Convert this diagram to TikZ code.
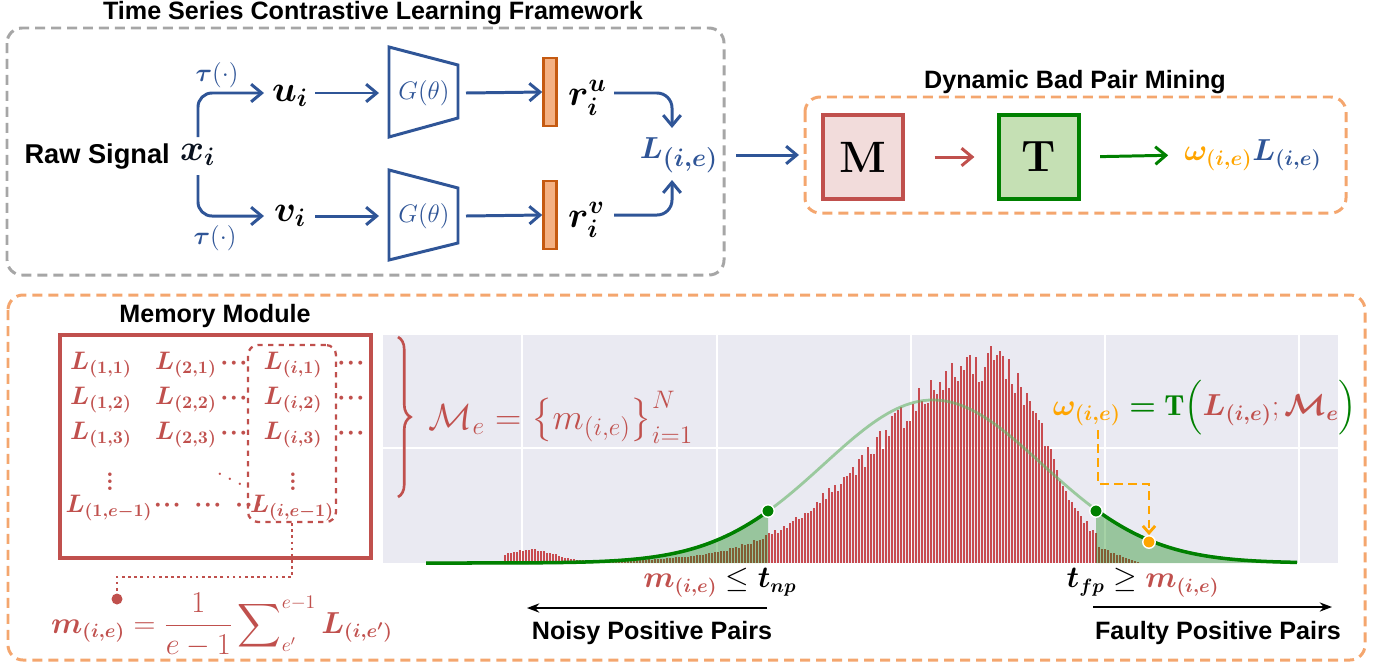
\documentclass[tikz,border=0pt]{standalone}
\usepackage{fontspec}
\setsansfont{Liberation Sans}
\usepackage{amsmath,bm}
\usetikzlibrary{arrows.meta,decorations.pathreplacing,calc}
\definecolor{dblue}{RGB}{47,85,151}
\definecolor{barfill}{RGB}{244,177,131}
\definecolor{barline}{RGB}{197,90,17}
\definecolor{gbox}{RGB}{166,166,166}
\definecolor{obox}{RGB}{244,166,110}
\definecolor{mred}{RGB}{192,80,77}
\definecolor{mfill}{RGB}{242,220,219}
\definecolor{tgreen}{RGB}{0,128,0}
\definecolor{tfill}{RGB}{197,224,180}
\definecolor{orng}{RGB}{255,165,0}
\definecolor{chartbg}{RGB}{234,234,242}
\definecolor{histred}{RGB}{200,75,80}
\newcommand{\tdots}{\bm{\cdot}\mkern-3mu\bm{\cdot}\mkern-3mu\bm{\cdot}}
\begin{document}
\begin{tikzpicture}[x=0.02cm,y=-0.02cm,
  sans/.style={font=\sffamily\bfseries\fontsize{#1}{#1}\selectfont},
  mth/.style={font=\fontsize{#1}{#1}\selectfont, inner sep=1pt},
  barr/.style={-{Straight Barb[length=6pt,width=10pt]}, line width=1.7pt},
  frame/.style={line width=1.7pt, dash pattern=on 0.2cm off 0.12cm, rounded corners=0.3cm},
  hbar/.style={draw=barline, fill=barfill, line width=1.4pt, minimum width=0.26cm, minimum height=1.36cm, inner sep=0},
  mbox/.style={line width=2pt, minimum width=1.6cm, minimum height=1.68cm, font=\bfseries\fontsize{25}{25}\selectfont},
  mat/.style={mth=14, text=mred},
  gdot/.style={circle, draw=white, line width=0.8pt, inner sep=0, minimum size=0.25cm}]
\useasboundingbox (0,0) rectangle (1373,667);

% ---------- top-left framework ----------
\node[sans=14.3] (title1) at (373,13) {Time Series Contrastive Learning Framework};
\draw[frame, draw=gbox] (7,28) rectangle (724,275);
\node[sans=15.5, anchor=east] (raw) at (176,157) {Raw Signal};
\node[mth=21, text=dblue!20!black, anchor=west] (xi) at (178,155) {$\bm{x_i}$};
\node[mth=21, text=black] (ui) at (290,96) {$\bm{u_i}$};
\node[mth=21, text=black] (vi) at (290,216) {$\bm{v_i}$};
\coordinate (bu0) at (198,137);
\coordinate (bv0) at (198,175);
\draw[barr, dblue, rounded corners=0.28cm] (bu0) |- (264,93);
\draw[barr, dblue, rounded corners=0.28cm] (bv0) |- (264,216);
\node[mth=15, text=dblue] (tau1) at (217,75) {$\bm{\tau}(\cdot)$};
\node[mth=15, text=dblue] (tau2) at (215,238) {$\bm{\tau}(\cdot)$};
\draw[dblue, line width=1.7pt] (389,47) -- (458,65) -- (458,118) -- (389,137) -- cycle;
\draw[dblue, line width=1.7pt] (389,170) -- (458,188) -- (458,243) -- (389,260) -- cycle;
\node[mth=15, text=dblue] (g1) at (424,93) {$G(\theta)$};
\node[mth=15, text=dblue] (g2) at (424,216) {$G(\theta)$};
\coordinate (g1w) at (379,93); \coordinate (g1e) at (466,93);
\coordinate (g2w) at (379,216); \coordinate (g2e) at (466,216);
\coordinate (u1) at (315,93); \coordinate (v1e) at (315,216);
\draw[barr, dblue] (u1) -- (g1w);
\draw[barr, dblue] (v1e) -- (g2w);
\node[hbar] (ru) at (550,92) {};
\node[hbar] (rv) at (550,215) {};
\draw[barr, dblue] (g1e) -- (ru.west);
\draw[barr, dblue] (g2e) -- (rv.west);
\node[mth=21, anchor=west] (rul) at (566,98) {$\bm{r_i^u}$};
\node[mth=21, anchor=west] (rvl) at (566,220) {$\bm{r_i^v}$};
\node[mth=19, text=dblue] (L) at (679,155) {$\bm{L_{(i,e)}}$};
\draw[barr, dblue, rounded corners=0.3cm] (614,93) -| (672,128);
\draw[barr, dblue, rounded corners=0.3cm] (614,215) -| (672,180);

% ---------- dynamic bad pair mining ----------
\node[sans=14.3] (title2) at (1075,82) {Dynamic Bad Pair Mining};
\draw[frame, draw=obox] (805,97) rectangle (1346,213);
\coordinate (dbin) at (799,155);
\coordinate (lout) at (736,155);
\draw[barr, dblue] (lout) -- (dbin);
\node[mbox, draw=mred, fill=mfill] (M) at (863,157) {M};
\node[mbox, draw=tgreen, fill=tfill] (T) at (1039,157) {T};
\draw[barr, mred, shorten <=17pt, shorten >=13pt] (M.east) -- (T.west);
\node[mth=17.5] (wl) at (1253,155) {$\color{orng}\bm{\omega_{(i,e)}}\color{dblue}\bm{L_{(i,e)}}$};
\draw[barr, tgreen, shorten <=11pt, shorten >=8pt] (T.east) -- (wl.west);

% ---------- bottom frame ----------
\draw[frame, draw=obox] (8,295) rectangle (1365,660);
\node[sans=14.3] (title3) at (215,316) {Memory Module};
\draw[mred, line width=2.2pt] (60,335) rectangle (371,558);
\node[mat] (a11) at (101,365) {$\bm{L_{(1,1)}}$};
\node[mat] (a21) at (186,365) {$\bm{L_{(2,1)}}$};
\node[mat] (d1) at (234,363) {$\tdots$};
\node[mat] (ai1) at (293,365) {$\bm{L_{(i,1)}}$};
\node[mat] (e1) at (351,363) {$\tdots$};
\node[mat] (a12) at (101,400) {$\bm{L_{(1,2)}}$};
\node[mat] (a22) at (186,400) {$\bm{L_{(2,2)}}$};
\node[mat] (d2) at (234,398) {$\tdots$};
\node[mat] (ai2) at (293,400) {$\bm{L_{(i,2)}}$};
\node[mat] (e2) at (351,398) {$\tdots$};
\node[mat] (a13) at (101,435) {$\bm{L_{(1,3)}}$};
\node[mat] (a23) at (186,435) {$\bm{L_{(2,3)}}$};
\node[mat] (d3) at (234,433) {$\tdots$};
\node[mat] (ai3) at (293,435) {$\bm{L_{(i,3)}}$};
\node[mat] (e3) at (351,433) {$\tdots$};
\node[mat, inner sep=0] (v1) at (110,476) {$\bm{\vdots}$};
\node[mat, inner sep=0] (dd) at (230,474) {$\bm{\ddots}$};
\node[mat, inner sep=0] (vi3) at (293,476) {$\bm{\vdots}$};
\node[mat] (a1e) at (109,508) {$\bm{L_{(1,e-1)}}$};
\node[mat] (d4) at (208,505) {$\tdots\ \tdots\ \tdots$};
\node[mat] (aie) at (292,508) {$\bm{L_{(i,e-1)}}$};
\node[draw=mred, dashed, line width=1.3pt, rounded corners=0.2cm, minimum width=1.76cm, minimum height=3.54cm] (col) at (292,433.5) {};
\coordinate (md) at (117,599);
\draw[mred, line width=1.5pt, dotted] (col.south) -- ++(0,54) -| (md);
\fill[mred] (md) circle[radius=0.11cm];
\node[mth=16, text=mred] (mform) at (222,625) {$\bm{m_{(i,e)}}=\dfrac{1}{e-1}\displaystyle\sum\nolimits_{e'}^{e-1}\bm{L_{(i,e')}}$};

% ---------- chart ----------
\fill[chartbg] (383,335) rectangle (1338,563);
\foreach \gx in {522,717,911,1105,1299} \draw[white, line width=1pt] (\gx,335) -- (\gx,563);
\draw[white, line width=1pt] (383,448) -- (1338,448);
\pgfmathsetseed{11}
\foreach \x in {505,508,...,1139}{
  \pgfmathsetmacro\h{ifthenelse(\x<=990, 200*exp(-((\x-990)/110)^2/2)+12*exp(-((\x-530)/22)^2/2)+2, ifthenelse(\x<=1097, 210*exp(-((\x-990)/53)^2/2), 16*(1140-\x)/43))*(0.9+0.18*rnd)}
  \fill[histred] (\x-1.2,563) rectangle (\x+1.2,563-\h);
}
\fill[tgreen, opacity=0.35] (426,563) -- plot[domain=426:768, samples=60] (\x,{563-163*exp(-((\x-933)/109)^2/2)}) -- (768,563) -- cycle;
\fill[tgreen, opacity=0.35] (1096,563) -- plot[domain=1096:1297, samples=60] (\x,{563-163*exp(-((\x-933)/109)^2/2)}) -- (1297,563) -- cycle;
\draw[tgreen!60!white, opacity=0.6, line width=1.6pt] plot[domain=426:1297, samples=150] (\x,{563-163*exp(-((\x-933)/109)^2/2)});
\draw[tgreen, line width=2pt] plot[domain=426:768, samples=60] (\x,{563-163*exp(-((\x-933)/109)^2/2)});
\draw[tgreen, line width=2pt] plot[domain=1096:1297, samples=60] (\x,{563-163*exp(-((\x-933)/109)^2/2)});
\node[gdot, fill=tgreen] (tnp) at (768,511) {};
\node[gdot, fill=tgreen] (tfp) at (1096,511) {};
\node[gdot, fill=orng] (wd) at (1149,542) {};

\draw[decorate, decoration={brace, amplitude=0.25cm}, mred, line width=1.5pt] (398,337) -- (398,497);
\node[mth=20, text=mred] (Me) at (561,417) {$\mathcal{M}_e=\bigl\{m_{(i,e)}\bigr\}_{i=1}^{N}$};
\node[mth=16.5] (wform) at (1205,408) {$\color{orng}\bm{\omega_{(i,e)}}\color{tgreen}\bm{=}\mathbf{T}\Bigl(\color{mred}\bm{L_{(i,e)}};\bm{\mathcal{M}_e}\color{tgreen}\Bigr)$};
\coordinate (wtop) at (1098,430);
\draw[orng, line width=1.6pt, dash pattern=on 5pt off 3pt, -{Straight Barb[length=4pt,width=7pt]}] (wtop) -- (1098,484) -| (wd.north);

\node[mth=16] (npl) at (720,583) {$\color{mred}\bm{m_{(i,e)}}\color{black}\le\bm{t_{np}}$};
\node[mth=16] (fpl) at (1143,583) {$\bm{t_{fp}}\ge\color{mred}\bm{m_{(i,e)}}$};
\coordinate (npa) at (767,608); \coordinate (npb) at (527,608);
\coordinate (fpa) at (1093,607); \coordinate (fpb) at (1332,607);
\draw[-{Stealth[length=7pt]}, line width=0.9pt] (npa) -- (npb);
\draw[-{Stealth[length=7pt]}, line width=0.9pt] (fpa) -- (fpb);
\node[sans=14.3] (npt) at (652,633) {Noisy Positive Pairs};
\node[sans=14.3] (fpt) at (1218,633) {Faulty Positive Pairs};
\end{tikzpicture}
\end{document}
